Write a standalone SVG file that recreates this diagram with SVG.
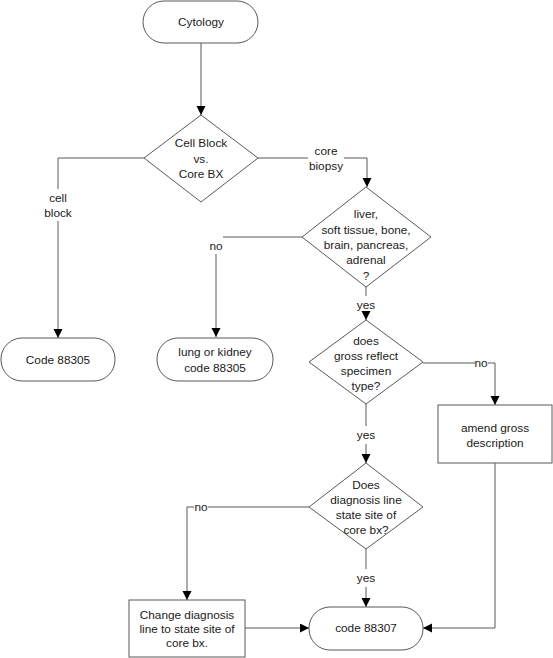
<svg xmlns="http://www.w3.org/2000/svg" width="553" height="658" viewBox="0 0 553 658">
<style>
.shape{fill:#fff;stroke:#595959;stroke-width:1}
.conn{fill:none;stroke:#595959;stroke-width:1}
text{font-family:"Liberation Sans",Arial,sans-serif;font-size:11.8px;fill:#1a1a1a;text-anchor:middle}
</style>
<defs>
<marker id="arr" markerUnits="userSpaceOnUse" markerWidth="10" markerHeight="10" refX="9" refY="4.5" orient="auto">
<path d="M0,0 L9,4.5 L0,9 z" fill="#000"/>
</marker>
</defs>
<rect width="553" height="658" fill="#fff"/>
<g id="connectors">
<path class="conn" d="M201,43 V115" marker-end="url(#arr)"/>
<path class="conn" d="M144,158 H58 V189"/>
<path class="conn" d="M58,221 V338" marker-end="url(#arr)"/>
<path class="conn" d="M258,158 H308"/>
<path class="conn" d="M344,158 H367 V187" marker-end="url(#arr)"/>
<path class="conn" d="M302,237 H223"/>
<path class="conn" d="M216,254 V337" marker-end="url(#arr)"/>
<path class="conn" d="M366,287 V296"/>
<path class="conn" d="M366,312 V320" marker-end="url(#arr)"/>
<path class="conn" d="M423,363 H475"/>
<path class="conn" d="M488,363 H495 V405" marker-end="url(#arr)"/>
<path class="conn" d="M366,404 V426"/>
<path class="conn" d="M366,444 V463" marker-end="url(#arr)"/>
<path class="conn" d="M309,507 H208"/>
<path class="conn" d="M194,507 H187 V600" marker-end="url(#arr)"/>
<path class="conn" d="M366,549 V569"/>
<path class="conn" d="M366,587 V607" marker-end="url(#arr)"/>
<path class="conn" d="M245,628 H309" marker-end="url(#arr)"/>
<path class="conn" d="M495,463 V628 H423" marker-end="url(#arr)"/>
<text x="58" y="202">cell</text>
<text x="58" y="217">block</text>
<text x="326" y="155">core</text>
<text x="326" y="170">biopsy</text>
<text x="216" y="250">no</text>
<text x="366" y="309">yes</text>
<text x="481" y="367">no</text>
<text x="366" y="439">yes</text>
<text x="201" y="511">no</text>
<text x="366" y="582">yes</text>
</g>
<g id="cytology">
<rect class="shape" x="143" y="1" width="115" height="42" rx="21"/>
<text x="201" y="26">Cytology</text>
</g>
<g id="cellblock-vs-core">
<polygon class="shape" points="201,115 258,158 201,202 144,158"/>
<text x="201" y="147">Cell Block</text>
<text x="201" y="163">vs.</text>
<text x="201" y="178">Core BX</text>
</g>
<g id="site-decision">
<polygon class="shape" points="366,187 431,237 366,287 302,237"/>
<text x="366" y="218">liver,</text>
<text x="366" y="234">soft tissue, bone,</text>
<text x="366" y="249">brain, pancreas,</text>
<text x="366" y="264">adrenal</text>
<text x="366" y="280">?</text>
</g>
<g id="code-88305">
<rect class="shape" x="1" y="338" width="114" height="43" rx="21"/>
<text x="58" y="364">Code 88305</text>
</g>
<g id="lung-kidney">
<rect class="shape" x="157" y="338" width="116" height="43" rx="21"/>
<text x="215" y="356">lung or kidney</text>
<text x="215" y="372">code 88305</text>
</g>
<g id="gross-decision">
<polygon class="shape" points="366,320 423,362 366,404 309,362"/>
<text x="366" y="345">does</text>
<text x="366" y="360">gross reflect</text>
<text x="366" y="375">specimen</text>
<text x="366" y="390">type?</text>
</g>
<g id="amend-gross">
<rect class="shape" x="438" y="405" width="114" height="58"/>
<text x="495" y="432">amend gross</text>
<text x="495" y="447">description</text>
</g>
<g id="diagnosis-decision">
<polygon class="shape" points="366,463 423,507 366,549 309,507"/>
<text x="366" y="489">Does</text>
<text x="366" y="504">diagnosis line</text>
<text x="366" y="519">state site of</text>
<text x="366" y="534">core bx?</text>
</g>
<g id="change-diagnosis">
<rect class="shape" x="129" y="600" width="116" height="57"/>
<text x="187" y="619">Change diagnosis</text>
<text x="187" y="633">line to state site of</text>
<text x="187" y="647">core bx.</text>
</g>
<g id="code-88307">
<rect class="shape" x="309" y="607" width="114" height="43" rx="21"/>
<text x="366" y="632">code 88307</text>
</g>
</svg>
